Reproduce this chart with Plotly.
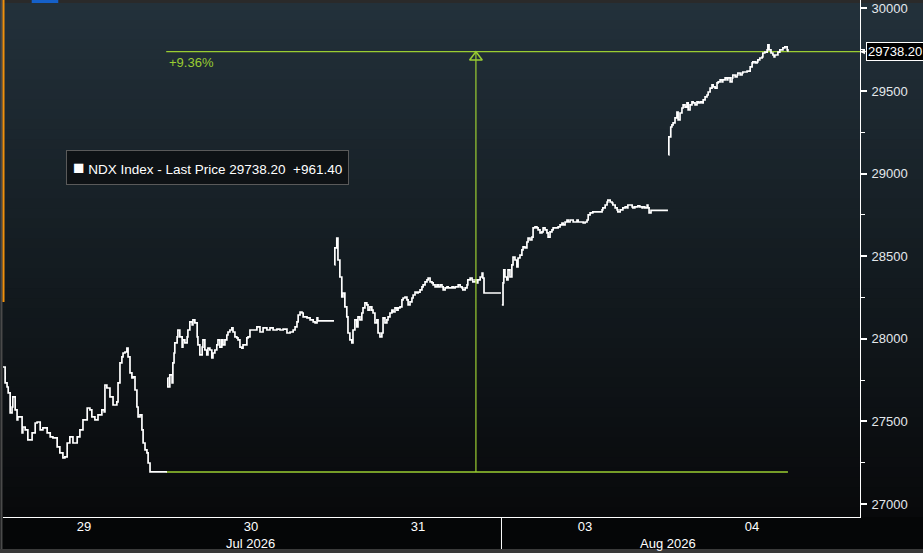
import plotly.graph_objects as go

# ---------------- data ----------------
day_labels = ["29", "30", "31", "03", "04"]
month_labels = ["Jul 2026", "Aug 2026"]
month_day_counts = [3, 2]          # Jul: 29,30,31   Aug: 03,04

# minutes after the open, and NDX prices, per trading day
jul29_min = [6, 12, 17, 20, 25, 30, 32, 38, 43, 45, 51, 56, 58, 64, 71, 82, 90, 95, 103, 110,
             121, 129, 136, 147, 154, 162, 167, 173, 180, 188, 199, 206, 214, 225, 232, 237, 245, 253, 263, 269,
             271, 276, 284, 292, 302, 305, 310, 315, 318, 323, 328, 331, 336, 341, 344, 349, 354, 357, 362, 367,
             370, 375, 380, 383, 388]
jul29_px = [27829, 27733, 27708, 27672, 27551, 27587, 27648, 27569, 27509, 27527, 27527, 27430, 27466, 27448, 27388,
            27430, 27490, 27496, 27448, 27460, 27430, 27406, 27400, 27345, 27309, 27279, 27285, 27369, 27406, 27369,
            27406, 27448, 27509, 27581, 27569, 27527, 27509, 27539, 27569, 27557, 27720, 27702, 27648, 27599, 27618,
            27733, 27854, 27890, 27914, 27920, 27944, 27890, 27793, 27763, 27769, 27690, 27587, 27527, 27539, 27448,
            27369, 27327, 27309, 27248, 27194]

jul30_min = [0, 1, 6, 12, 14, 17, 19, 25, 27, 32, 38, 40, 45, 51, 53, 58, 64, 66, 71, 77,
             79, 84, 90, 92, 97, 102, 105, 110, 115, 118, 123, 128, 131, 136, 141, 144, 149, 154, 157, 162,
             167, 170, 175, 180, 183, 188, 193, 196, 201, 206, 209, 214, 222, 232, 240, 248, 258, 266, 274, 284,
             292, 300, 310, 318, 326, 331, 336, 339, 344, 349, 352, 362, 370, 378, 383, 388, 390]
jul30_px = [27763, 27708, 27781, 27733, 27854, 27914, 27975, 28011, 28053, 28011, 27950, 27993, 27975, 28011, 28053,
            28102, 28084, 28114, 28096, 28011, 27963, 27902, 27950, 27993, 27932, 27902, 27944, 27932, 27884, 27914,
            27932, 27963, 27993, 27950, 27993, 27963, 27993, 28023, 28041, 28053, 28066, 28041, 28011, 28005, 27993,
            27950, 27944, 27963, 27963, 28005, 28011, 28053, 28053, 28072, 28041, 28066, 28053, 28066, 28053, 28059,
            28053, 28059, 28035, 28041, 28053, 28072, 28102, 28144, 28162, 28156, 28132, 28126, 28114, 28102, 28096,
            28126, 28108]

jul31_min = [0, 1, 6, 9, 14, 19, 22, 27, 32, 35, 40, 45, 48, 53, 58, 61, 66, 71, 74, 79,
             84, 87, 92, 97, 100, 105, 110, 113, 118, 123, 126, 131, 136, 139, 144, 149, 152, 157, 162, 165,
             170, 175, 178, 183, 188, 191, 196, 201, 204, 209, 214, 217, 222, 227, 230, 235, 240, 243, 248, 253,
             256, 261, 266, 269, 274, 279, 282, 287, 292, 295, 300, 305, 308, 313, 318, 321, 326, 331, 333, 339,
             344, 346, 352, 357, 359, 365, 370, 372, 378, 383, 385, 388]
jul31_px = [28447, 28550, 28610, 28477, 28374, 28253, 28277, 28193, 28132, 28035,
            27993, 27975, 28053, 28114, 28072, 28132, 28114, 28156, 28187, 28217,
            28205, 28174, 28193, 28174, 28156, 28096, 28114, 28035, 28011, 28035,
            28126, 28096, 28114, 28132, 28156, 28174, 28162, 28187, 28174, 28187,
            28193, 28235, 28247, 28253, 28235, 28205, 28223, 28247, 28265, 28283,
            28277, 28283, 28296, 28314, 28326, 28344, 28356, 28368, 28344, 28338,
            28326, 28314, 28326, 28314, 28326, 28314, 28296, 28308, 28314, 28308,
            28308, 28314, 28308, 28314, 28314, 28326, 28314, 28308, 28296, 28308,
            28326, 28356, 28368, 28356, 28344, 28356, 28338, 28356, 28374, 28398,
            28368, 28277]

aug03_min = [1, 4, 6, 9, 14, 17, 22, 27, 30, 35, 40, 43, 48, 53, 56, 61, 66, 69, 74, 79,
             82, 87, 92, 95, 100, 105, 108, 113, 118, 121, 126, 131, 134, 144, 147, 152, 157, 160, 165, 170,
             173, 178, 186, 191, 196, 199, 204, 209, 212, 217, 222, 225, 230, 235, 237, 243, 248, 256, 261, 263,
             269, 274, 276, 282, 287, 289, 295, 300, 302, 308, 313, 315, 321, 326, 328, 333, 339, 341, 346, 352,
             354, 359, 365, 367, 372, 378, 380, 383, 388]
aug03_px = [28205, 28338, 28417, 28374, 28356, 28417, 28374, 28447, 28495, 28477,
            28435, 28489, 28507, 28538, 28556, 28550, 28586, 28610, 28598, 28616,
            28671, 28677, 28671, 28659, 28641, 28647, 28671, 28659, 28641, 28616,
            28647, 28659, 28671, 28671, 28677, 28689, 28701, 28689, 28707, 28719,
            28707, 28719, 28707, 28707, 28719, 28707, 28707, 28707, 28701, 28707,
            28719, 28750, 28762, 28762, 28768, 28768, 28768, 28768, 28780, 28792,
            28810, 28828, 28840, 28828, 28822, 28810, 28792, 28780, 28768, 28780,
            28780, 28792, 28798, 28792, 28810, 28810, 28798, 28792, 28798, 28798,
            28804, 28798, 28792, 28798, 28792, 28810, 28792, 28762, 28776.8]

aug04_min = [0, 1, 6, 9, 12, 17, 22, 25, 30, 35, 38, 43, 48, 51, 56, 61, 64, 69, 74, 77,
             82, 87, 90, 95, 100, 103, 108, 113, 116, 121, 126, 129, 134, 139, 141, 147, 152, 154, 160, 165,
             167, 173, 178, 180, 186, 191, 193, 199, 204, 206, 212, 217, 219, 225, 230, 232, 237, 243, 245, 250,
             256, 258, 261, 266, 271, 274, 276, 282, 284, 289, 295, 297, 302, 308, 310]
aug04_px = [29113, 29222, 29282, 29295, 29307, 29337, 29373, 29325, 29367, 29397,
            29416, 29403, 29428, 29385, 29416, 29434, 29428, 29416, 29434, 29428,
            29434, 29428, 29446, 29464, 29476, 29494, 29518, 29537, 29525, 29518,
            29549, 29555, 29567, 29555, 29567, 29579, 29567, 29579, 29555, 29579,
            29597, 29585, 29597, 29609, 29597, 29609, 29615, 29615, 29621, 29621,
            29646, 29670, 29676, 29670, 29676, 29688, 29700, 29706, 29730, 29736,
            29749, 29779, 29749, 29730, 29718, 29706, 29718, 29718, 29736, 29749,
            29749, 29761, 29767, 29749, 29738.2]

session_minutes = [jul29_min, jul30_min, jul31_min, aug03_min, aug04_min]
session_prices = [jul29_px, jul30_px, jul31_px, aug03_px, aug04_px]

SLOT_MIN = 433.3        # one day slot on the axis (390 traded minutes + post-close hold)
HOLD_MIN = 432          # close price is held flat until here
measure_start = (0, 430)   # (day, minute) where the % measurement starts
measure_mark = (2, 367)    # (day, minute) of the vertical measurement line
X_RANGE = [0.015, 5.147]
Y_RANGE = [26921, 30051]

# ---------------- build series ----------------
def to_x(day, minute):
    return day + minute / SLOT_MIN

xs, ys = [], []
for d, (mins, pxs) in enumerate(zip(session_minutes, session_prices)):
    xs += [to_x(d, m) for m in mins]
    ys += list(pxs)
    if d < len(session_minutes) - 1:
        xs += [to_x(d, HOLD_MIN), None]
        ys += [pxs[-1], None]

last_price = aug04_px[-1]
prev_close = aug03_px[-1]
low_price = jul29_px[-1]
pct = (last_price / low_price - 1) * 100
last_x = to_x(len(session_minutes) - 1, aug04_min[-1])
ms_x = to_x(*measure_start)
mk_x = to_x(*measure_mark)

FONT = "Liberation Sans, Arial, sans-serif"
GREEN = "#9acd32"

fig = go.Figure()
fig.add_trace(go.Scatter(x=[ms_x, X_RANGE[1]], y=[last_price, last_price], mode="lines",
                         line=dict(color=GREEN, width=1.2), hoverinfo="skip"))
fig.add_trace(go.Scatter(x=[ms_x, last_x], y=[low_price, low_price], mode="lines",
                         line=dict(color=GREEN, width=1.5), hoverinfo="skip"))
fig.add_trace(go.Scatter(x=xs, y=ys, mode="lines", line=dict(color="white", width=1.7, shape="hv"),
                         connectgaps=False, name="NDX Index"))
fig.add_trace(go.Scatter(x=[mk_x, mk_x], y=[low_price, last_price], mode="lines",
                         line=dict(color=GREEN, width=1.2), hoverinfo="skip"))
fig.add_trace(go.Scatter(x=[mk_x], y=[last_price], mode="markers",
                         marker=dict(symbol="triangle-up-open", size=11, color=GREEN,
                                     line=dict(color=GREEN, width=1.5), standoff=5.5),
                         hoverinfo="skip"))

# ---------------- background gradient & frame ----------------
shapes = []
N = 52
top_c = (35, 49, 59)
mid_c = (20, 28, 33)
bot_c = (8, 9, 11)
for i in range(N):
    f = 1 - (i + 0.5) / N   # 0 at top, 1 at bottom
    if f < 0.5:
        t = f / 0.5
        c = [round(top_c[k] + (mid_c[k] - top_c[k]) * t) for k in range(3)]
    else:
        t = (f - 0.5) / 0.5
        c = [round(mid_c[k] + (bot_c[k] - mid_c[k]) * t) for k in range(3)]
    shapes.append(dict(type="rect", xref="paper", yref="paper", x0=-0.004, x1=1.08,
                       y0=i / N, y1=(i + 1) / N + 0.002, line=dict(width=0),
                       fillcolor="rgb(%d,%d,%d)" % tuple(c), layer="below"))
# top tab strip
shapes.append(dict(type="rect", xref="paper", yref="paper", x0=-0.004, x1=1.08, y0=0.9942, y1=1.0,
                   line=dict(width=0), fillcolor="#2a2a2a", layer="below"))
shapes.append(dict(type="rect", xref="paper", yref="paper", x0=0.0335, x1=0.0645, y0=0.9942, y1=1.0,
                   line=dict(width=0), fillcolor="#1560c8", layer="below"))
# left edge lines
shapes.append(dict(type="line", xref="paper", yref="paper", x0=-0.0018, x1=-0.0018, y0=-0.07, y1=1,
                   line=dict(color="#4a4a4a", width=2)))
shapes.append(dict(type="line", xref="paper", yref="paper", x0=0.0006, x1=0.0006, y0=0.416, y1=1,
                   line=dict(color="#f0900c", width=2)))
# month separator under the axis
shapes.append(dict(type="line", xref="x", yref="paper", x0=month_day_counts[0], x1=month_day_counts[0],
                   y0=-0.075, y1=0, line=dict(color="white", width=1)))
# bottom strip
shapes.append(dict(type="rect", xref="paper", yref="paper", x0=-0.004, x1=1.08, y0=-0.075, y1=-0.0619,
                   line=dict(width=0), fillcolor="#3a3a3a"))

annotations = []
# month labels centred under their day groups
start = 0
for lab, n in zip(month_labels, month_day_counts):
    annotations.append(dict(x=start + n / 2, y=-0.0503, xref="x", yref="paper", text=lab,
                            showarrow=False, xanchor="center", yanchor="middle",
                            font=dict(color="white", size=13, family=FONT)))
    start += n
# % label
annotations.append(dict(x=ms_x, y=last_price, xref="x", yref="y", text="+%.2f%%" % pct,
                        showarrow=False, xanchor="left", yanchor="top", xshift=1, yshift=-1,
                        font=dict(color=GREEN, size=13, family=FONT)))
# legend box
annotations.append(dict(x=0.0735, y=0.71, xref="paper", yref="paper",
                        text='<span style="font-size:19px">\u25a0</span>\u00a0NDX Index - Last Price %.2f\u00a0\u00a0+%.2f'
                             % (last_price, last_price - prev_close),
                        showarrow=False, xanchor="left", yanchor="top", align="left",
                        bgcolor="#0e1215", bordercolor="#5a5a5a", borderwidth=1, borderpad=6,
                        font=dict(color="white", size=13.5, family=FONT)))
# last price tag
annotations.append(dict(x=1, y=last_price, xref="paper", yref="y", text="%.2f" % last_price,
                        showarrow=True, ax=6, ay=0, arrowhead=2, arrowsize=1, arrowwidth=1,
                        arrowcolor="white", xanchor="left", yanchor="middle",
                        bgcolor="black", bordercolor="white", borderwidth=1, borderpad=1,
                        font=dict(color="white", size=13, family=FONT)))

fig.update_layout(
    width=923, height=553,
    margin=dict(l=3, r=63, t=0, b=36),
    paper_bgcolor="#050607", plot_bgcolor="rgba(0,0,0,0)",
    showlegend=False,
    shapes=shapes, annotations=annotations,
    xaxis=dict(range=X_RANGE, tickvals=[d + 0.5 for d in range(len(day_labels))], ticktext=day_labels,
               ticks="", showgrid=False, zeroline=False, showline=True, linecolor="white", linewidth=1,
               tickangle=0, ticklabelstandoff=-3,
               tickfont=dict(color="white", size=13, family=FONT), fixedrange=True),
    yaxis=dict(range=Y_RANGE, side="right", tick0=27000, dtick=500, tickformat="d",
               showgrid=False, zeroline=False, showline=True, linecolor="white", linewidth=1,
               ticks="outside", ticklen=6, tickwidth=2, tickcolor="white", ticklabelstandoff=2,
               minor=dict(tick0=27000, dtick=250, ticks="outside", ticklen=4, tickwidth=1, tickcolor="white"),
               tickfont=dict(color="#e4e8ec", size=13, family=FONT), fixedrange=True),
)

fig.write_html("out.html", config={"displayModeBar": False},
               post_script="document.body.style.margin='0';document.body.style.overflow='hidden';")
